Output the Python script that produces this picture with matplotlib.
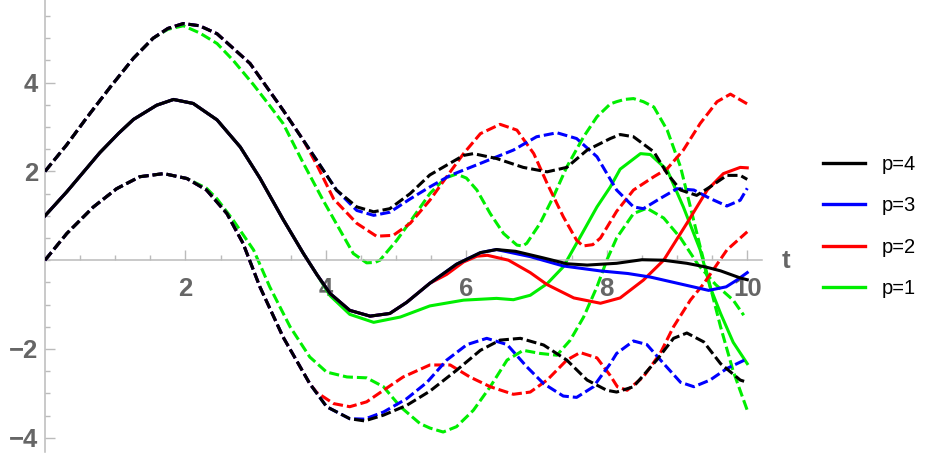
import matplotlib
matplotlib.use("Agg")
import matplotlib.pyplot as plt
from matplotlib.lines import Line2D
from matplotlib.ticker import MultipleLocator, FixedLocator

plt.rcParams['font.family'] = ['Liberation Sans', 'DejaVu Sans']

# ---- data ----
# p=4 (black): mean and the two dashed bounds
p4_mean_t = [0, 0.31, 0.78, 1.05, 1.26, 1.59, 1.83, 2.11, 2.45, 2.78, 3.06, 3.39, 3.68, 3.87, 4.06, 4.34, 4.63, 4.91, 5.15, 5.48, 5.86, 6.2, 6.43, 6.7, 7.1, 7.43, 7.72, 8.14, 8.5, 8.8, 9.14, 9.4, 9.62, 9.9, 10]
p4_mean_y = [1.0, 1.54, 2.42, 2.86, 3.17, 3.49, 3.62, 3.53, 3.16, 2.55, 1.85, 0.92, 0.15, -0.32, -0.75, -1.13, -1.26, -1.20, -0.95, -0.52, -0.09, 0.17, 0.24, 0.2, 0.05, -0.08, -0.11, -0.07, 0.01, 0.0, -0.07, -0.15, -0.24, -0.4, -0.44]
p4_up_t = [0, 0.31, 0.59, 0.93, 1.26, 1.54, 1.75, 1.97, 2.2, 2.45, 2.92, 3.39, 3.87, 4.15, 4.44, 4.68, 4.91, 5.2, 5.48, 5.96, 6.1, 6.43, 6.81, 7.15, 7.43, 7.72, 8.05, 8.19, 8.38, 8.67, 8.86, 9.05, 9.28, 9.47, 9.71, 9.9, 10]
p4_up_y = [2.0, 2.6, 3.2, 3.9, 4.55, 5.0, 5.22, 5.33, 5.28, 5.1, 4.43, 3.38, 2.25, 1.58, 1.2, 1.09, 1.16, 1.5, 1.92, 2.36, 2.4, 2.29, 2.09, 1.99, 2.09, 2.48, 2.74, 2.83, 2.78, 2.44, 1.95, 1.58, 1.46, 1.65, 1.91, 1.91, 1.82]
p4_lo_t = [0, 0.31, 0.69, 1.02, 1.35, 1.69, 2.02, 2.3, 2.59, 2.82, 3.06, 3.39, 3.77, 4.01, 4.34, 4.55, 4.82, 5.15, 5.48, 5.86, 6.2, 6.48, 6.77, 7.1, 7.43, 7.72, 8.0, 8.14, 8.38, 8.71, 8.95, 9.14, 9.38, 9.62, 9.9, 10]
p4_lo_y = [0.0, 0.6, 1.2, 1.61, 1.88, 1.95, 1.84, 1.58, 1.05, 0.38, -0.6, -1.73, -2.78, -3.3, -3.57, -3.62, -3.49, -3.27, -2.95, -2.48, -2.03, -1.8, -1.76, -1.91, -2.25, -2.7, -2.93, -2.97, -2.85, -2.25, -1.76, -1.64, -1.84, -2.33, -2.7, -2.75]

# p=3 (blue): same as p=4 early on, then its own values
p3_mean_t = p4_mean_t[:23] + [6.7, 6.91, 7.38, 7.9, 8.3, 8.62, 9.09, 9.45, 9.7, 9.85, 10]
p3_mean_y = p4_mean_y[:23] + [0.15, 0.08, -0.13, -0.24, -0.30, -0.38, -0.55, -0.68, -0.6, -0.45, -0.28]
p3_up_t = p4_up_t[:14] + [4.44, 4.68, 4.91, 5.2, 5.48, 5.77, 6.2, 6.67, 7.0, 7.29, 7.57, 7.86, 8.14, 8.38, 8.52, 8.76, 9.0, 9.24, 9.47, 9.71, 9.9, 10]
p3_up_y = p4_up_y[:14] + [1.12, 1.01, 1.08, 1.38, 1.65, 1.91, 2.18, 2.48, 2.78, 2.87, 2.74, 2.33, 1.58, 1.2, 1.16, 1.39, 1.61, 1.58, 1.39, 1.22, 1.35, 1.62]
p3_lo_t = p4_lo_t[:15] + [4.55, 4.82, 5.15, 5.44, 5.72, 6.01, 6.29, 6.58, 6.86, 7.1, 7.38, 7.57, 7.81, 7.91, 8.05, 8.14, 8.38, 8.57, 8.81, 9.05, 9.24, 9.47, 9.71, 10]
p3_lo_y = p4_lo_y[:15] + [-3.58, -3.42, -3.12, -2.75, -2.25, -1.9, -1.76, -1.9, -2.4, -2.78, -3.06, -3.09, -2.85, -2.63, -2.33, -2.1, -1.82, -1.9, -2.33, -2.75, -2.85, -2.7, -2.44, -2.22]

# p=2 (red)
p2_mean_t = p4_mean_t[:20] + [5.72, 5.96, 6.15, 6.3, 6.6, 6.91, 7.15, 7.53, 7.91, 8.19, 8.52, 8.81, 9.14, 9.43, 9.66, 9.9, 10]
p2_mean_y = p4_mean_y[:20] + [-0.32, -0.04, 0.09, 0.11, 0.0, -0.28, -0.55, -0.85, -0.97, -0.85, -0.45, 0.0, 0.83, 1.58, 1.95, 2.09, 2.08]
p2_up_t = p4_up_t[:12] + [3.68, 3.87, 4.11, 4.44, 4.72, 4.96, 5.2, 5.48, 5.72, 5.96, 6.2, 6.48, 6.72, 6.96, 7.15, 7.38, 7.57, 7.66, 7.8, 7.91, 8.14, 8.38, 8.67, 8.86, 9.09, 9.33, 9.57, 9.76, 10]
p2_up_y = p4_up_y[:12] + [2.7, 2.15, 1.38, 0.83, 0.54, 0.56, 0.83, 1.35, 1.88, 2.4, 2.85, 3.06, 2.93, 2.4, 1.73, 0.98, 0.45, 0.32, 0.35, 0.5, 1.1, 1.58, 1.88, 2.06, 2.48, 3.08, 3.57, 3.74, 3.52]
p2_lo_t = p4_lo_t[:13] + [3.87, 4.11, 4.34, 4.58, 4.82, 5.1, 5.48, 5.77, 6.05, 6.34, 6.67, 6.91, 7.15, 7.43, 7.62, 7.86, 8.05, 8.15, 8.29, 8.52, 8.76, 8.95, 9.19, 9.38, 9.71, 10]
p2_lo_y = p4_lo_y[:13] + [-2.98, -3.23, -3.3, -3.19, -2.93, -2.63, -2.36, -2.36, -2.63, -2.85, -3.02, -2.97, -2.7, -2.25, -2.08, -2.2, -2.6, -2.85, -2.93, -2.63, -2.1, -1.5, -0.9, -0.53, 0.23, 0.64]

# p=1 (green)
p1_mean_t = p4_mean_t[:14] + [4.06, 4.34, 4.68, 5.06, 5.48, 5.96, 6.43, 6.67, 6.91, 7.15, 7.38, 7.62, 7.86, 8.05, 8.19, 8.48, 8.62, 8.86, 9.09, 9.33, 9.47, 9.62, 9.8, 10]
p1_mean_y = p4_mean_y[:14] + [-0.8, -1.22, -1.40, -1.28, -1.03, -0.90, -0.86, -0.89, -0.79, -0.53, -0.15, 0.52, 1.2, 1.65, 2.05, 2.4, 2.38, 2.03, 1.2, 0.23, -0.6, -1.2, -1.85, -2.33]
p1_up_t = p4_up_t[:6] + [1.75, 1.97, 2.2, 2.45, 2.68, 2.97, 3.2, 3.39, 3.68, 3.96, 4.2, 4.39, 4.58, 4.7, 4.77, 5.01, 5.25, 5.48, 5.7, 5.86, 6.0, 6.15, 6.34, 6.53, 6.72, 6.8, 6.86, 7.05, 7.24, 7.43, 7.67, 7.86, 8.05, 8.14, 8.25, 8.38, 8.52, 8.67, 8.86, 9.05, 9.19, 9.33, 9.45, 9.62, 9.8, 10]
p1_up_y = p4_up_y[:6] + [5.2, 5.28, 5.12, 4.88, 4.5, 3.95, 3.48, 3.08, 2.18, 1.35, 0.68, 0.15, -0.06, -0.05, 0.0, 0.45, 0.98, 1.5, 1.85, 1.94, 1.85, 1.58, 1.05, 0.6, 0.34, 0.32, 0.38, 0.83, 1.43, 2.1, 2.78, 3.23, 3.52, 3.57, 3.62, 3.64, 3.57, 3.45, 2.93, 2.1, 1.2, 0.3, -0.45, -1.5, -2.5, -3.38]
p1_lo_t = p4_lo_t[:7] + [2.3, 2.45, 2.68, 2.97, 3.2, 3.49, 3.77, 4.01, 4.3, 4.58, 4.82, 5.06, 5.34, 5.48, 5.67, 5.86, 6.1, 6.34, 6.58, 6.81, 7.05, 7.29, 7.48, 7.67, 7.86, 8.0, 8.14, 8.38, 8.57, 8.81, 9.05, 9.3, 9.55, 9.8, 9.95]
p1_lo_y = p4_lo_y[:7] + [1.62, 1.38, 0.9, 0.23, -0.6, -1.5, -2.18, -2.52, -2.63, -2.65, -2.85, -3.3, -3.68, -3.78, -3.87, -3.75, -3.38, -2.85, -2.25, -2.03, -2.1, -2.14, -1.8, -1.28, -0.6, 0.0, 0.5, 1.05, 1.17, 0.95, 0.5, -0.1, -0.55, -0.9, -1.24]

labels = ['p=4', 'p=3', 'p=2', 'p=1']
colors = ['black', '#0000ff', '#ff0000', '#00ee00']

fig = plt.figure(figsize=(9.32, 4.54), dpi=100)
ax = fig.add_axes([45/932, 2/454, 717/932, 452/454])

lw = 2.2
dash = (3.3, 1.3)
series = [
    (p1_mean_t, p1_mean_y, p1_up_t, p1_up_y, p1_lo_t, p1_lo_y, colors[3]),
    (p2_mean_t, p2_mean_y, p2_up_t, p2_up_y, p2_lo_t, p2_lo_y, colors[2]),
    (p3_mean_t, p3_mean_y, p3_up_t, p3_up_y, p3_lo_t, p3_lo_y, colors[1]),
    (p4_mean_t, p4_mean_y, p4_up_t, p4_up_y, p4_lo_t, p4_lo_y, colors[0]),
]
for z, (mt, my, ut, uy, lt, ly, c) in enumerate(series):
    ax.plot(ut, uy, color=c, lw=lw, dashes=dash, zorder=2 + z, solid_joinstyle='round')
    ax.plot(lt, ly, color=c, lw=lw, dashes=dash, zorder=2 + z, solid_joinstyle='round')
    ax.plot(mt, my, color=c, lw=lw, zorder=2 + z, solid_joinstyle='round')

ax.set_xlim(0, 10.21)
ax.set_ylim(-4.32, 5.86)

# axes crossing at the origin, light gray like the original
for s in ['top', 'right']:
    ax.spines[s].set_visible(False)
ax.spines['left'].set_position(('data', 0))
ax.spines['bottom'].set_position(('data', 0))
for s in ['left', 'bottom']:
    ax.spines[s].set_color('#bbbbbb')
    ax.spines[s].set_linewidth(1.1)
ax.set_axisbelow(True)

ax.xaxis.set_major_locator(FixedLocator([2, 4, 6, 8, 10]))
ax.xaxis.set_minor_locator(MultipleLocator(0.5))
ax.yaxis.set_major_locator(FixedLocator([-4, -2, 2, 4]))
ax.yaxis.set_minor_locator(MultipleLocator(0.5))
ax.tick_params(which='both', direction='in', color='#bbbbbb', width=1.0)
ax.tick_params(which='major', length=7)
ax.tick_params(which='minor', length=3.5)
ax.tick_params(axis='x', which='major', pad=12, labelsize=18.5, labelcolor='#666666')
ax.tick_params(axis='y', which='major', pad=5, labelsize=18.5, labelcolor='#666666')
for lab in ax.get_xticklabels() + ax.get_yticklabels():
    lab.set_fontweight('bold')

fig.text(786/932, 1 - 261/454, 't', ha='center', va='center', fontsize=18.5,
         fontweight='bold', color='#666666')

handles = [Line2D([], [], color=c, lw=2.4) for c in colors]
fig.legend(handles, labels, loc='center left', bbox_to_anchor=(823/932, 1 - 226.5/454),
           frameon=False, fontsize=14.5, handlelength=2.1, handletextpad=0.8,
           labelspacing=1.1, borderpad=0, borderaxespad=0)

fig.savefig('out.png', dpi=100)
